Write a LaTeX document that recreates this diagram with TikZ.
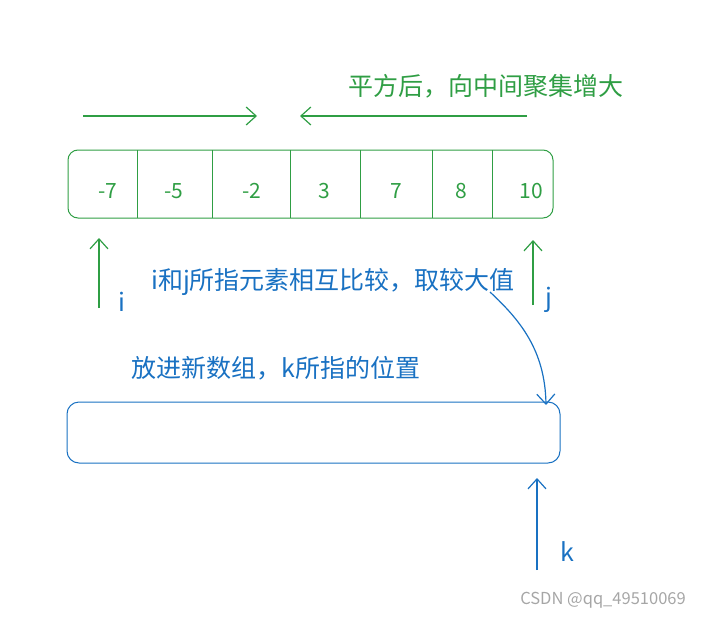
\documentclass[tikz,border=0pt]{standalone}
\usepackage{fontspec}
\setmainfont{Noto Sans CJK SC}
\usetikzlibrary{arrows.meta}
\definecolor{gr}{HTML}{2F9E44}
\definecolor{bl}{HTML}{1971C2}
\tikzset{
  garr/.style={draw=gr,line width=1.2pt,-{Straight Barb[length=10pt,width=18pt]}},
  barr/.style={draw=bl,line width=1.2pt,-{Straight Barb[length=10pt,width=18pt]}},
  gtxt/.style={text=gr,font=\fontsize{25pt}{28pt}\selectfont},
  btxt/.style={text=bl,font=\fontsize{25pt}{28pt}\selectfont},
  num/.style={text=gr,font=\fontsize{21pt}{24pt}\selectfont}
}
\begin{document}
\begin{tikzpicture}[x=1pt,y=-1pt]
\useasboundingbox (0,0) rectangle (703,618);
\draw[gr,line width=1pt,rounded corners=10pt] (68,150) rectangle (553,218);
\foreach \x in {137,212,290,360,432,492} \draw[gr,line width=1pt] (\x,150) -- (\x,218);
\foreach \x/\t/\n in {108/-7/a,174/-5/b,252/-2/c,324/3/d,396/7/e,461/8/f,531/10/g}
  \node[num] (n\n) at (\x,191) {\t};
\coordinate (r1) at (83,116); \coordinate (r2) at (257,116);
\coordinate (l1) at (527,116); \coordinate (l2) at (300,116);
\draw[garr] (r1) -- (r2);
\draw[garr] (l1) -- (l2);
\node[gtxt] (t1) at (486,86) {平方后，向中间聚集增大};
\coordinate (i1) at (99,308); \coordinate (i2) at (99,238);
\draw[garr] (i1) -- (i2);
\coordinate (j1) at (533,305); \coordinate (j2) at (533,240);
\draw[garr] (j1) -- (j2);
\node[btxt] (li) at (122,302) {i};
\node[btxt] (lj) at (549,300) {j};
\node[btxt] (t2) at (333,282) {i和j所指元素相互比较，取较大值};
\coordinate (c1) at (490,292); \coordinate (c2) at (546,405);
\draw[barr] (c1) .. controls (520,320) and (545,350) .. (c2);
\node[btxt] (t3) at (276,368) {放进新数组，k所指的位置};
\draw[bl,line width=1pt,rounded corners=12pt] (67,402) rectangle (560,463);
\coordinate (k1) at (537,570); \coordinate (k2) at (537,478);
\draw[barr] (k1) -- (k2);
\node[btxt] (lk) at (567,552) {k};
\node[text=gray!70,font=\fontsize{16.5pt}{19pt}\selectfont] (wm) at (603,600) {CSDN @qq\_49510069};
\end{tikzpicture}
\end{document}
